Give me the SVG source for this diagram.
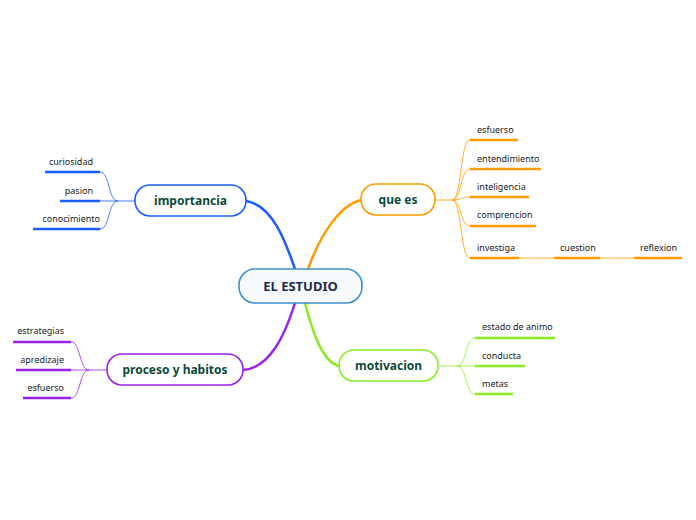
<svg xmlns="http://www.w3.org/2000/svg" width="696" height="520" viewBox="0 0 696 520">
<style>
.n{fill:#fff;stroke-width:1.6}
.t{font-family:"Noto Sans",sans-serif;font-weight:bold;font-size:12px;fill:#0d4a3a;text-anchor:middle}
.l{font-family:"Noto Sans",sans-serif;font-size:9px;fill:#222}
.r{text-anchor:end}
.c{fill:none}
.u{stroke-width:2.5;fill:none}
</style>
<rect width="696" height="520" fill="#fff"/>
<g id="connectors">
<path class="c" d="M246,201 C272,205 285,240 295,269" stroke="#1a5cff" stroke-width="2.5"/>
<path class="c" d="M308,269 C320,235 340,205 361,200" stroke="#ff9a00" stroke-width="2.5"/>
<path class="c" d="M305,303 C312,330 322,362 339,366" stroke="#88ee22" stroke-width="2.5"/>
<path class="c" d="M295,303 C285,335 270,368 243,370" stroke="#9a22ee" stroke-width="2.5"/>
<g stroke="#1a5cff" stroke-width="0.8" fill="none">
<path d="M135,201 H118 C108,201 110,172 100,172"/><path d="M118,201 H100"/><path d="M118,201 C108,201 110,229 100,229"/>
</g>
<g stroke="#ff9a00" stroke-width="0.8" fill="none">
<path d="M435,200 H452 C462,200 460,140 470,140"/><path d="M452,200 C462,200 460,169 470,169"/><path d="M452,200 C462,200 460,197 470,197"/><path d="M452,200 C462,200 460,226 470,226"/><path d="M452,200 C462,200 460,258 470,258"/><path d="M519,258 H554"/><path d="M600,258 H634"/>
</g>
<g stroke="#88ee22" stroke-width="0.8" fill="none">
<path d="M438,366 H457 C467,366 465,338 475,338"/><path d="M457,366 H475"/><path d="M457,366 C467,366 465,394 475,394"/>
</g>
<g stroke="#9a22ee" stroke-width="0.8" fill="none">
<path d="M107,370 H89 C79,370 81,342 71,342"/><path d="M89,370 H71"/><path d="M89,370 C79,370 81,398 71,398"/>
</g>
</g>
<g id="root"><rect x="239" y="269" width="123" height="34" rx="16" fill="#f8fbfd" stroke="#3a8fd0" stroke-width="1.6"/><text x="300.5" y="291" font-family="Noto Sans,sans-serif" font-weight="bold" font-size="13" fill="#1a2a4a" text-anchor="middle">EL ESTUDIO</text></g>
<g id="importancia"><rect class="n" x="135" y="185" width="111" height="31" rx="15" stroke="#1a5cff"/><text class="t" x="190.5" y="205">importancia</text></g>
<g id="quees"><rect class="n" x="361" y="184" width="74" height="31" rx="15" stroke="#ff9a00"/><text class="t" x="398" y="204">que es</text></g>
<g id="motivacion"><rect class="n" x="339" y="350" width="99" height="31" rx="15" stroke="#88ee22"/><text class="t" x="388.5" y="370">motivacion</text></g>
<g id="proceso"><rect class="n" x="107" y="354" width="136" height="31" rx="15" stroke="#9a22ee"/><text class="t" x="175" y="374">proceso y habitos</text></g>
<g id="imp-leaves" stroke="#1a5cff">
<path class="u" d="M45,172H100M60,201H100M33,229H100"/>
<text class="l r" x="93" y="165" stroke="none">curiosidad</text><text class="l r" x="93" y="194" stroke="none">pasion</text><text class="l r" x="100" y="222" stroke="none">conocimiento</text>
</g>
<g id="que-leaves" stroke="#ff9a00">
<path class="u" d="M470,140H518M470,169H541M470,197H529M470,226H536M470,258H519M554,258H600M634,258H682"/>
<text class="l" x="477" y="133" stroke="none">esfuerso</text><text class="l" x="477" y="162" stroke="none">entendimiento</text><text class="l" x="477" y="190" stroke="none">inteligencia</text><text class="l" x="477" y="218" stroke="none">comprencion</text><text class="l" x="477" y="251" stroke="none">investiga</text><text class="l" x="560" y="251" stroke="none">cuestion</text><text class="l" x="640" y="251" stroke="none">reflexion</text>
</g>
<g id="mot-leaves" stroke="#88ee22">
<path class="u" d="M475,338H555M475,366H525M475,394H513"/>
<text class="l" x="482" y="330" stroke="none">estado de animo</text><text class="l" x="482" y="359" stroke="none">conducta</text><text class="l" x="482" y="387" stroke="none">metas</text>
</g>
<g id="pro-leaves" stroke="#9a22ee">
<path class="u" d="M13,342H71M16,370H71M23,398H71"/>
<text class="l r" x="64" y="334" stroke="none">estrategias</text><text class="l r" x="64" y="363" stroke="none">apredizaje</text><text class="l r" x="64" y="391" stroke="none">esfuerso</text>
</g>
</svg>
